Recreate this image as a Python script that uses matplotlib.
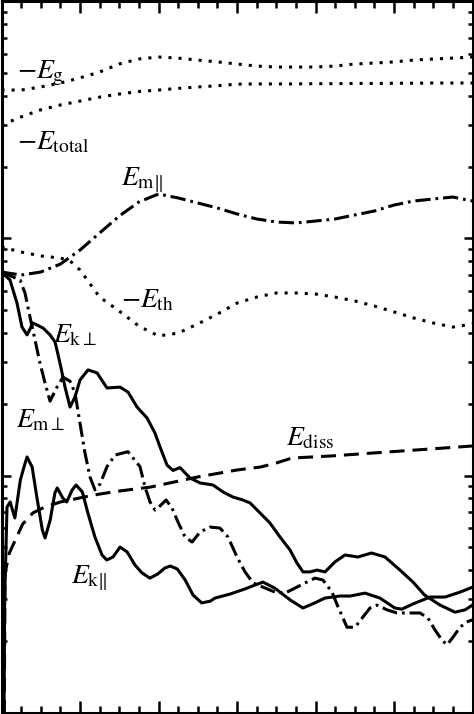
import numpy as np
import matplotlib
matplotlib.use('Agg')
import matplotlib.pyplot as plt
from matplotlib.ticker import MultipleLocator, LogLocator, NullFormatter

plt.rcParams['mathtext.fontset'] = 'stix'
plt.rcParams['font.family'] = ['STIXGeneral', 'DejaVu Serif']

# time grid used by the smooth curves
t_grid = [0, 0.25, 0.5, 0.75, 1.0, 1.25, 1.5, 1.75, 2.0, 2.25, 2.5, 2.75, 3.0,
          3.25, 3.5, 3.75, 4.0, 4.25, 4.5, 4.75, 5.0, 5.25, 5.5, 5.75, 6.0]

# -E_g
e_g = [0.423, 0.423, 0.436, 0.453, 0.476, 0.504, 0.545, 0.572, 0.583, 0.577, 0.566, 0.556, 0.545,
       0.534, 0.529, 0.529, 0.529, 0.534, 0.545, 0.550, 0.556, 0.566, 0.572, 0.577, 0.583]

# -E_total
e_total = [0.301, 0.326, 0.349, 0.366, 0.380, 0.395, 0.407, 0.417, 0.423, 0.430, 0.436, 0.441, 0.448,
           0.449, 0.449, 0.449, 0.450, 0.450, 0.451, 0.451, 0.452, 0.452, 0.453, 0.453, 0.453]

# E_m parallel
e_m_par = [0.0722, 0.0701, 0.0722, 0.0780, 0.0894, 0.1055, 0.1244, 0.1426, 0.1541, 0.1483, 0.1412, 0.1345, 0.1269,
           0.1209, 0.1174, 0.1163, 0.1185, 0.1209, 0.1257, 0.1306, 0.1384, 0.1439, 0.1468, 0.1496, 0.1439]

# -E_th
t_th = [0, 0.25, 0.5, 0.75, 0.875, 1.0, 1.25, 1.5, 1.75, 2.0, 2.25, 2.5, 2.75, 3.0,
        3.25, 3.5, 3.75, 4.0, 4.25, 4.5, 4.75, 5.0, 5.25, 5.5, 5.75, 6.0]
e_th = [0.0921, 0.0877, 0.0844, 0.0827, 0.0804, 0.0736, 0.0566, 0.0494, 0.0427, 0.0388, 0.0399, 0.0436, 0.0480, 0.0534,
        0.0566, 0.0589, 0.0589, 0.0583, 0.0566, 0.0545, 0.0519, 0.0490, 0.0462, 0.0440, 0.0423, 0.0436]

# E_diss
t_diss = [0.0, 0.045, 0.1, 0.2, 0.27, 0.4, 0.55, 0.75, 1.05, 1.25, 1.5, 1.9, 2.5, 3.0, 3.3, 3.5, 3.7, 4.2, 5.1, 6.0]
e_diss = [1e-5, 0.00388, 0.00471, 0.00556, 0.00624, 0.00695, 0.00736, 0.00773, 0.00811, 0.00835, 0.00860,
          0.00894, 0.00986, 0.01055, 0.01086, 0.01129, 0.01185, 0.01209, 0.01269, 0.01332]

# E_k parallel
t_k_par = [0, 0.04, 0.07, 0.11, 0.17, 0.24, 0.29, 0.325, 0.39, 0.45, 0.52, 0.555, 0.62, 0.68, 0.71, 0.78, 0.83,
           0.90, 0.95, 1.03, 1.10, 1.19, 1.28, 1.34, 1.42, 1.51, 1.60, 1.70, 1.79, 1.89, 1.99, 2.08, 2.15, 2.24,
           2.34, 2.44, 2.55, 2.66, 2.72, 2.91, 3.10, 3.23, 3.33, 3.48, 3.68, 3.84, 3.99, 4.12, 4.31, 4.44, 4.63,
           4.82, 5.01, 5.10, 5.24, 5.46, 5.65, 5.84, 6.0]
e_k_par = [1e-5, 0.00298, 0.00736, 0.00773, 0.00662, 0.00957, 0.01097, 0.01197, 0.01086, 0.00811, 0.00589,
           0.00545, 0.00649, 0.00844, 0.00886, 0.00804, 0.00773, 0.00869, 0.00912, 0.00852, 0.00695, 0.00550,
           0.00462, 0.00440, 0.00453, 0.00499, 0.00476, 0.00419, 0.00388, 0.00369, 0.00384, 0.00407, 0.00415,
           0.00403, 0.00362, 0.00313, 0.00290, 0.00295, 0.00304, 0.00316, 0.00332, 0.00345, 0.00355, 0.00335,
           0.00298, 0.00276, 0.00290, 0.00304, 0.00310, 0.00310, 0.00319, 0.00304, 0.00276, 0.00273, 0.00287,
           0.00307, 0.00307, 0.00322, 0.00338]

# E_k perpendicular
t_k_perp = [0, 0.108, 0.197, 0.261, 0.325, 0.401, 0.529, 0.618, 0.682, 0.745, 0.809, 0.873, 0.936, 1.0, 1.102,
            1.217, 1.344, 1.510, 1.611, 1.726, 1.854, 1.955, 2.019, 2.108, 2.185, 2.274, 2.401, 2.529, 2.694,
            2.822, 2.949, 3.076, 3.166, 3.293, 3.420, 3.548, 3.675, 3.764, 3.841, 3.930, 4.019, 4.121, 4.248,
            4.376, 4.541, 4.713, 4.885, 5.076, 5.242, 5.389, 5.586, 5.777, 5.904, 6.0]
e_k_perp = [0.0722, 0.0668, 0.0534, 0.0423, 0.0392, 0.0440, 0.0419, 0.0392, 0.0366, 0.0298, 0.0236, 0.01945,
            0.02144, 0.0253, 0.0279, 0.0271, 0.0234, 0.0236, 0.0225, 0.01945, 0.01748, 0.0151, 0.0132, 0.01107,
            0.0105, 0.0108, 0.00976, 0.00930, 0.00912, 0.00852, 0.00811, 0.00788, 0.00766, 0.00695, 0.00630,
            0.00550, 0.00485, 0.00427, 0.00392, 0.00392, 0.00399, 0.00392, 0.00432, 0.00462, 0.00453, 0.00471,
            0.00453, 0.00399, 0.00355, 0.00313, 0.00284, 0.00265, 0.00271, 0.00284]

# E_m perpendicular
t_m_perp = [0, 0.236, 0.299, 0.363, 0.427, 0.490, 0.554, 0.618, 0.707, 0.783, 0.873, 0.936, 1.0, 1.064, 1.127,
            1.191, 1.255, 1.344, 1.446, 1.611, 1.764, 1.828, 1.892, 1.955, 2.019, 2.096, 2.172, 2.248, 2.338,
            2.427, 2.529, 2.656, 2.783, 2.885, 3.0, 3.102, 3.204, 3.331, 3.484, 3.611, 3.739, 3.866, 3.994,
            4.096, 4.210, 4.287, 4.401, 4.503, 4.592, 4.694, 4.783, 4.911, 5.038, 5.204, 5.331, 5.433, 5.522,
            5.611, 5.675, 5.752, 5.841, 5.924, 6.0]
e_m_perp = [0.0722, 0.0668, 0.0589, 0.0466, 0.0373, 0.0298, 0.0246, 0.0206, 0.0236, 0.0260, 0.0250, 0.0223,
            0.0166, 0.0124, 0.00986, 0.00869, 0.00921, 0.0109, 0.0122, 0.0126, 0.0109, 0.00894, 0.00773,
            0.00715, 0.00744, 0.00788, 0.00729, 0.00636, 0.00550, 0.00524, 0.00577, 0.00606, 0.00600, 0.00550,
            0.00453, 0.00392, 0.00352, 0.00338, 0.00322, 0.00319, 0.00335, 0.00352, 0.00369, 0.00362, 0.00322,
            0.00279, 0.00229, 0.00229, 0.00250, 0.00276, 0.00284, 0.00271, 0.00263, 0.00263, 0.00263, 0.00250,
            0.00223, 0.00202, 0.00193, 0.00208, 0.00229, 0.00241, 0.00246]

lw = 2.2
dotted = (0, (1, 2.3))
dashed = (0, (4.9, 2.6))
dashdot = (0, (5, 1.6, 0.9, 1.6))

fig = plt.figure(figsize=(4.74, 7.14), dpi=100)
ax = fig.add_axes([0.0032, 0.0021, 0.9937, 0.9958])

ax.plot(t_grid, e_g, color='black', lw=lw, ls=dotted, dash_capstyle='butt')
ax.plot(t_grid, e_total, color='black', lw=lw, ls=dotted, dash_capstyle='butt')
ax.plot(t_th, e_th, color='black', lw=lw, ls=dotted, dash_capstyle='butt')
ax.plot(t_grid, e_m_par, color='black', lw=lw, ls=dashdot)
ax.plot(t_m_perp, e_m_perp, color='black', lw=lw, ls=dashdot)
ax.plot(t_diss, e_diss, color='black', lw=lw, ls=dashed)
ax.plot(t_k_perp, e_k_perp, color='black', lw=lw, solid_joinstyle='round')
ax.plot(t_k_par, e_k_par, color='black', lw=lw, solid_joinstyle='round')

ax.set_yscale('log')
ax.set_xlim(0, 6)
ax.set_ylim(1e-3, 1)

ax.xaxis.set_major_locator(MultipleLocator(1))
ax.xaxis.set_minor_locator(MultipleLocator(0.25))
ax.yaxis.set_major_locator(LogLocator(base=10))
ax.yaxis.set_minor_locator(LogLocator(base=10, subs=np.arange(2, 10)))
ax.xaxis.set_major_formatter(NullFormatter())
ax.yaxis.set_major_formatter(NullFormatter())
ax.yaxis.set_minor_formatter(NullFormatter())

ax.tick_params(axis='both', which='both', direction='in', top=True, right=True,
               labelbottom=False, labelleft=False, width=1.8)
ax.tick_params(axis='x', which='major', length=8.5)
ax.tick_params(axis='x', which='minor', length=5)
ax.tick_params(axis='y', which='major', length=6.5)
ax.tick_params(axis='y', which='minor', length=3.6)
for sp in ax.spines.values():
    sp.set_linewidth(2.2)

fs = 20
labels = [
    (0.2, 0.476, r'$-E_{\mathrm{g}}$'),
    (0.2, 0.2385, r'$-E_{\mathrm{total}}$'),
    (1.52, 0.168, r'$E_{\mathrm{m}\Vert}$'),
    (1.52, 0.0514, r'$-E_{\mathrm{th}}$'),
    (0.66, 0.0366, r'$E_{\mathrm{k}\perp}$'),
    (0.19, 0.016, r'$E_{\mathrm{m}\perp}$'),
    (3.62, 0.01345, r'$E_{\mathrm{diss}}$'),
    (0.89, 0.00352, r'$E_{\mathrm{k}\Vert}$'),
]
for x, y, s in labels:
    ax.text(x, y, s, fontsize=fs, ha='left', va='baseline')

fig.savefig('out.png', dpi=100)
